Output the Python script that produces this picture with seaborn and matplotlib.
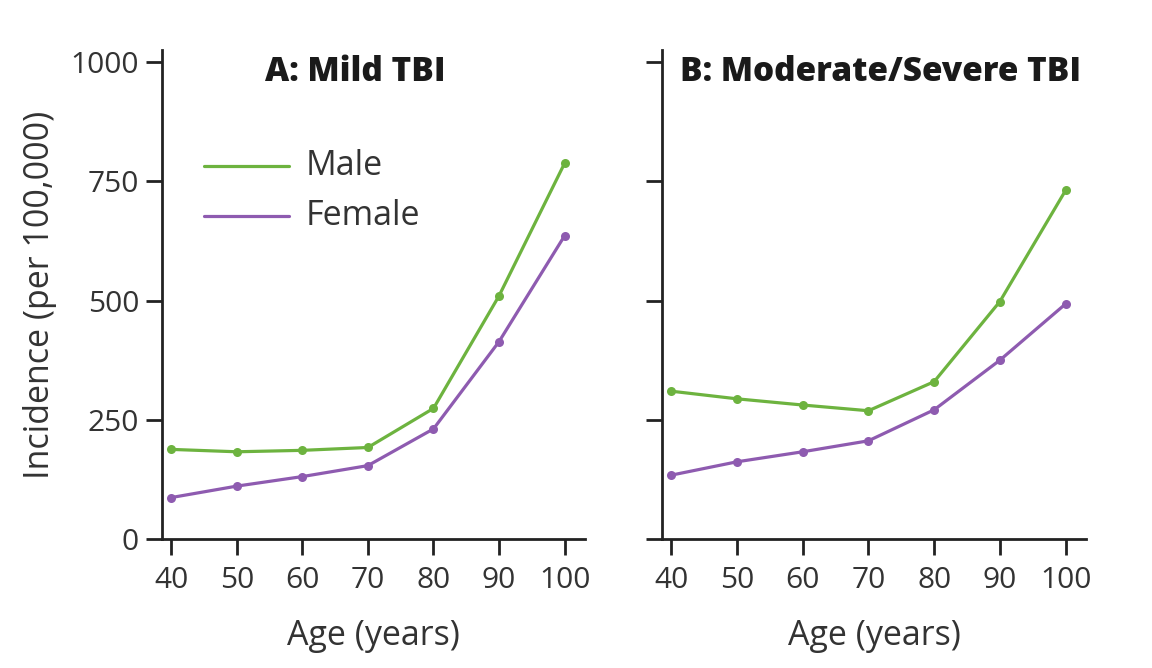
import numpy as np
import pandas as pd
import matplotlib
matplotlib.use("Agg")
import matplotlib.pyplot as plt
import seaborn as sns

# values
ages = [40, 50, 60, 70, 80, 90, 100]
mild_male = [188, 183, 186, 192, 274, 510, 788]
mild_female = [87, 111, 131, 154, 231, 414, 636]
severe_male = [310, 294, 281, 269, 330, 498, 731]
severe_female = [134, 162, 183, 206, 271, 375, 493]

panel_titles = ["A: Mild TBI", "B: Moderate/Severe TBI"]
sex_labels = ["Male", "Female"]
y_ticks = [0, 250, 500, 750, 1000]

colors = {"Male": "#6db33f", "Female": "#8e5bb0"}

rows = []
for panel, male, female in [(panel_titles[0], mild_male, mild_female),
                            (panel_titles[1], severe_male, severe_female)]:
    for a, m, f in zip(ages, male, female):
        rows.append({"panel": panel, "age": a, "sex": "Male", "incidence": m})
        rows.append({"panel": panel, "age": a, "sex": "Female", "incidence": f})
df = pd.DataFrame(rows)

sns.set_theme(style="ticks")
plt.rcParams["font.family"] = ["Open Sans", "DejaVu Sans"]

fig = plt.figure(figsize=(11.52, 6.68), dpi=100)
axA = fig.add_axes([0.1406, 0.193, 0.3672, 0.732])
axB = fig.add_axes([0.5747, 0.193, 0.3680, 0.732])

# title centres (axes fraction) as placed in the original
title_x = [0.456, 0.516]

for ax, title, tx in zip([axA, axB], panel_titles, title_x):
    sub = df[df["panel"] == title]
    sns.lineplot(data=sub, x="age", y="incidence", hue="sex",
                 hue_order=sex_labels, palette=colors, marker="o",
                 markersize=6.5, markeredgewidth=0, linewidth=2.3,
                 legend=False, ax=ax)
    ax.set_xlim(38.6, 103.1)
    ax.set_ylim(0, 1025)
    ax.set_xticks(ages)
    ax.set_yticks(y_ticks)
    for s in ["top", "right"]:
        ax.spines[s].set_visible(False)
    for s in ["left", "bottom"]:
        ax.spines[s].set_linewidth(2.0)
        ax.spines[s].set_color("#222222")
    ax.tick_params(axis="both", width=2.0, length=11.5, color="#222222",
                   labelsize=21.5, labelcolor="#333333", pad=5)
    ax.tick_params(axis="x", pad=8)
    ax.set_xlabel("Age (years)", fontsize=24.5, color="#333333", labelpad=17)
    ax.text(tx, 0.956, title, transform=ax.transAxes, fontsize=24,
            fontweight=800, color="#1a1a1a", ha="center", va="center")

axA.set_ylabel("Incidence (per 100,000)", fontsize=24.5, color="#333333", labelpad=10)
axB.set_ylabel("")
axB.set_yticklabels([])

# legend drawn as in the original, inside panel A
for lbl, yv in zip(sex_labels, [0.763, 0.660]):
    axA.plot([0.10, 0.30], [yv, yv], transform=axA.transAxes,
             color=colors[lbl], linewidth=2.3)
    axA.text(0.34, yv, lbl, transform=axA.transAxes, fontsize=24.5,
             color="#333333", va="center", ha="left")

fig.savefig("out.png", dpi=100)
